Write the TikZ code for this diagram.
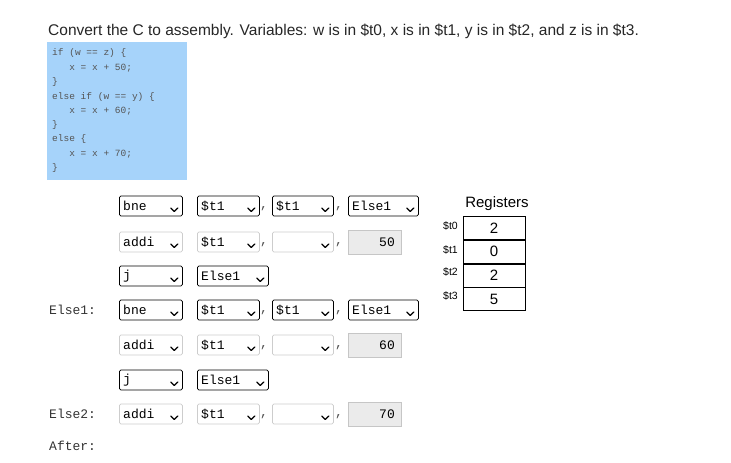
\documentclass[tikz,border=0pt]{standalone}
\usepackage{fontspec}
\setmainfont{Liberation Sans}
\newfontfamily\cour{Liberation Mono}
\definecolor{codebg}{HTML}{A6D3FA}
\definecolor{codefg}{HTML}{555555}
\definecolor{dis}{HTML}{B8B8B8}
\definecolor{immbg}{HTML}{EBEBEB}
\begin{document}
\begin{tikzpicture}[x=1pt,y=-1pt,
  sel/.style={draw=black,line width=0.8pt,rounded corners=1.5pt,minimum height=20pt,anchor=west,inner sep=0pt,font=\cour\fontsize{13}{13}\selectfont,text=black},
  seld/.style={sel,draw=dis!70,text=dis},
  imm/.style={draw=dis!80,fill=immbg,minimum height=24pt,anchor=west,inner sep=0pt,font=\cour\fontsize{13}{13}\selectfont,text=black!80},
  chev/.style={line width=1.3pt,line cap=round,line join=round},
  lbl/.style={anchor=west,font=\cour\fontsize{13}{13}\selectfont,text=black!80,inner sep=0pt},
  code/.style={anchor=west,font=\cour\fontsize{9.5}{9.5}\selectfont,text=codefg,inner sep=0pt},
  reg/.style={draw=black,line width=0.7pt,minimum width=62pt,minimum height=23pt,inner sep=0pt,font=\fontsize{15}{15}\selectfont},
  rlab/.style={anchor=east,font=\fontsize{10.5}{10.5}\selectfont,inner sep=0pt}]
\useasboundingbox (0,0) rectangle (731,463);
\node[anchor=west,inner sep=0pt,font=\fontsize{15.5}{15.5}\selectfont,text=black!85] (title) at (48,31) {Convert the C to assembly. Variables: w is in \$t0, x is in \$t1, y is in \$t2, and z is in \$t3.};
\fill[codebg] (47,42) rectangle (187,180);
\node[code] (c1) at (52,53) {if (w == z) \{};
\node[code] (c2) at (52,68) {\ \ \ x = x + 50;};
\node[code] (c3) at (52,82) {\}};
\node[code] (c4) at (52,97) {else if (w == y) \{};
\node[code] (c5) at (52,111) {\ \ \ x = x + 60;};
\node[code] (c6) at (52,125) {\}};
\node[code] (c7) at (52,139) {else \{};
\node[code] (c8) at (52,154) {\ \ \ x = x + 70;};
\node[code] (c9) at (52,168) {\}};
% macro for select with chevron
\newcommand\mysel[6]{% style, name, x, y, width, text
  \node[#1,minimum width=#5pt] (#2) at (#3,#4) {};
  \node[anchor=west,inner sep=0pt,font=\cour\fontsize{13}{13}\selectfont,text=\ifx#1seld dis\else black\fi] at (#3+4,#4) {#6};
  \draw[chev,\ifx#1seld dis\else black\fi] ([xshift=-12pt,yshift=-2pt]#2.east) -- ++(3.5,3.5) -- ++(3.5,-3.5);}
\newcommand\comma[2]{\node[font=\cour\fontsize{13}{13}\selectfont,text=black!70,inner sep=0pt] at (#1,#2+3) {,};}
% row 1
\mysel{sel}{op1}{119}{206}{63}{bne}
\mysel{sel}{a1}{197}{206}{62}{\$t1}\comma{264}{206}
\mysel{sel}{b1}{272}{206}{61}{\$t1}\comma{339}{206}
\mysel{sel}{l1}{348}{206}{70}{Else1}
% row 2
\mysel{seld}{op2}{119}{242}{63}{addi}
\mysel{seld}{a2}{197}{242}{62}{\$t1}\comma{264}{242}
\mysel{seld}{b2}{272}{242}{61}{}\comma{339}{242}
\node[imm,minimum width=53pt] (i2) at (348,242) {}; \node[anchor=east,font=\cour\fontsize{13}{13}\selectfont,inner sep=0pt] at (395,242) {50};
% row 3
\mysel{sel}{op3}{119}{276}{63}{j}
\mysel{sel}{l3}{197}{276}{71}{Else1}
% row 4
\node[lbl] (e1) at (49,310) {Else1:};
\mysel{sel}{op4}{119}{310}{63}{bne}
\mysel{sel}{a4}{197}{310}{62}{\$t1}\comma{264}{310}
\mysel{sel}{b4}{272}{310}{61}{\$t1}\comma{339}{310}
\mysel{sel}{l4}{348}{310}{70}{Else1}
% row 5
\mysel{seld}{op5}{119}{345}{63}{addi}
\mysel{seld}{a5}{197}{345}{62}{\$t1}\comma{264}{345}
\mysel{seld}{b5}{272}{345}{61}{}\comma{339}{345}
\node[imm,minimum width=53pt] (i5) at (348,345) {}; \node[anchor=east,font=\cour\fontsize{13}{13}\selectfont,inner sep=0pt] at (395,345) {60};
% row 6
\mysel{sel}{op6}{119}{380}{63}{j}
\mysel{sel}{l6}{197}{380}{71}{Else1}
% row 7
\node[lbl] (e2) at (49,414) {Else2:};
\mysel{seld}{op7}{119}{414}{63}{addi}
\mysel{seld}{a7}{197}{414}{62}{\$t1}\comma{264}{414}
\mysel{seld}{b7}{272}{414}{61}{}\comma{339}{414}
\node[imm,minimum width=53pt] (i7) at (348,414) {}; \node[anchor=east,font=\cour\fontsize{13}{13}\selectfont,inner sep=0pt] at (395,414) {70};
\node[lbl] (after) at (49,446) {After:};
% registers
\node[font=\fontsize{15}{15}\selectfont] (rh) at (497,204) {Registers};
\node[reg] (r0) at (494,228) {2};
\node[reg,anchor=north] (r1) at (r0.south) {0};
\node[reg,anchor=north] (r2) at (r1.south) {2};
\node[reg,anchor=north] (r3) at (r2.south) {5};
\node[rlab] at (458,226) {\$t0};
\node[rlab] at (458,250) {\$t1};
\node[rlab] at (458,272) {\$t2};
\node[rlab] at (458,296) {\$t3};
\end{tikzpicture}
\end{document}
